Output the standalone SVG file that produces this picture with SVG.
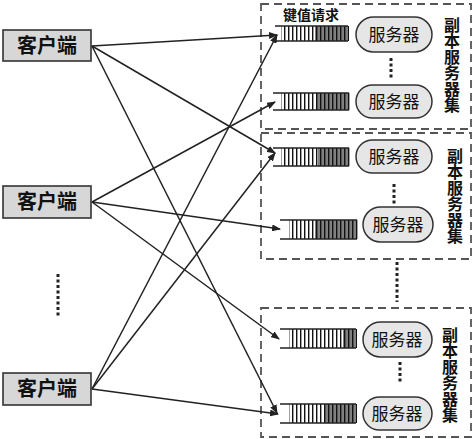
<svg xmlns="http://www.w3.org/2000/svg" width="474" height="439" viewBox="0 0 474 439">
<style>
.client rect{fill:#d7d7d7;stroke:#333;stroke-width:1.6}
.client text{font-family:"Noto Sans CJK SC",sans-serif;font-size:20px;font-weight:bold;fill:#111;text-anchor:middle}
.server rect{fill:#e6e6e6;stroke:#333;stroke-width:1.5}
.server text{font-family:"Noto Sans CJK SC",sans-serif;font-size:17px;fill:#111;text-anchor:middle}
.group rect{fill:none;stroke:#555;stroke-width:1.8;stroke-dasharray:8 5}
.vt{font-family:"Noto Sans CJK SC",sans-serif;font-size:16px;font-weight:bold;fill:#111;writing-mode:vertical-rl;text-anchor:middle}
.lbl{font-family:"Noto Sans CJK SC",sans-serif;font-size:14px;font-weight:bold;fill:#111;text-anchor:middle}
.conn line{stroke:#222;stroke-width:1.5;marker-end:url(#ah)}
.q line{stroke:#222;stroke-width:1.4}
.dots{stroke:#222;stroke-width:3;stroke-dasharray:3 2.5}
.qfill{fill:#808080}
.qbars{fill:url(#bars)}
</style>
<defs>
<marker id="ah" markerUnits="userSpaceOnUse" markerWidth="9" markerHeight="7" refX="8" refY="3.5" orient="auto">
<path d="M0,0 L9,3.5 L0,7 z" fill="#222"/>
</marker>
<pattern id="bars" patternUnits="userSpaceOnUse" width="4" height="10">
<rect x="0" y="0" width="1.4" height="10" fill="#111"/>
</pattern>
</defs>

<g id="group1" class="group"><rect x="261" y="4" width="210" height="125"/><text class="vt" x="452" y="65">副本服务器集</text></g>
<g id="group2" class="group"><rect x="261" y="133" width="210" height="126"/><text class="vt" x="455" y="196">副本服务器集</text></g>
<g id="group3" class="group"><rect x="261" y="308" width="210" height="129"/><text class="vt" x="450" y="375">副本服务器集</text></g>

<text class="lbl" x="311" y="20">键值请求</text>

<g id="queue1" class="q">
<rect x="315" y="26" width="33" height="15" class="qfill"/>
<rect x="281" y="26" width="68" height="15" class="qbars"/>
<line x1="275" y1="26" x2="348" y2="26"/><line x1="275" y1="41" x2="348" y2="41"/>
</g>
<g id="queue2" class="q">
<rect x="317" y="93" width="32" height="17" class="qfill"/>
<rect x="281" y="93" width="69" height="17" class="qbars"/>
<line x1="273" y1="93" x2="349" y2="93"/><line x1="273" y1="110" x2="349" y2="110"/>
</g>
<g id="queue3" class="q">
<rect x="318" y="148" width="31" height="18" class="qfill"/>
<rect x="281" y="148" width="69" height="18" class="qbars"/>
<line x1="273" y1="148" x2="349" y2="148"/><line x1="273" y1="166" x2="349" y2="166"/>
</g>
<g id="queue4" class="q">
<rect x="315" y="220" width="42" height="19" class="qfill"/>
<rect x="289" y="220" width="69" height="19" class="qbars"/>
<line x1="280" y1="220" x2="357" y2="220"/><line x1="280" y1="239" x2="357" y2="239"/>
</g>
<g id="queue5" class="q">
<rect x="343" y="329" width="13" height="19" class="qfill"/>
<rect x="289" y="329" width="68" height="19" class="qbars"/>
<line x1="280" y1="329" x2="356" y2="329"/><line x1="280" y1="348" x2="356" y2="348"/>
</g>
<g id="queue6" class="q">
<rect x="325" y="404" width="31" height="19" class="qfill"/>
<rect x="289" y="404" width="68" height="19" class="qbars"/>
<line x1="280" y1="404" x2="356" y2="404"/><line x1="280" y1="423" x2="356" y2="423"/>
</g>

<g id="server1" class="server"><rect x="356" y="17" width="76" height="35" rx="17.5"/><text x="394" y="41">服务器</text></g>
<g id="server2" class="server"><rect x="356" y="85" width="76" height="33" rx="16.5"/><text x="394" y="108">服务器</text></g>
<g id="server3" class="server"><rect x="356" y="140" width="76" height="33" rx="16.5"/><text x="394" y="163">服务器</text></g>
<g id="server4" class="server"><rect x="363" y="207" width="70" height="35" rx="17.5"/><text x="398" y="231">服务器</text></g>
<g id="server5" class="server"><rect x="363" y="322" width="69" height="35" rx="17.5"/><text x="397" y="346">服务器</text></g>
<g id="server6" class="server"><rect x="363" y="397" width="69" height="33" rx="16.5"/><text x="397" y="420">服务器</text></g>

<g id="client1" class="client"><rect x="3" y="30" width="88" height="31"/><text x="47" y="53">客户端</text></g>
<g id="client2" class="client"><rect x="3" y="186" width="88" height="32"/><text x="47" y="209">客户端</text></g>
<g id="client3" class="client"><rect x="3" y="373" width="88" height="32"/><text x="47" y="396">客户端</text></g>

<g id="ellipsis">
<line class="dots" x1="391" y1="58" x2="391" y2="78"/>
<line class="dots" x1="394" y1="184" x2="394" y2="204"/>
<line class="dots" x1="400" y1="362" x2="400" y2="383"/>
<line class="dots" x1="397" y1="262" x2="397" y2="302"/>
<line class="dots" x1="58" y1="274" x2="58" y2="316"/>
</g>

<g id="connectors" class="conn">
<line x1="92" y1="46" x2="277" y2="35"/>
<line x1="92" y1="46" x2="275" y2="153"/>
<line x1="92" y1="46" x2="277" y2="413"/>
<line x1="92" y1="202" x2="275" y2="102"/>
<line x1="92" y1="202" x2="280" y2="229"/>
<line x1="92" y1="202" x2="279" y2="339"/>
<line x1="92" y1="389" x2="277" y2="35"/>
<line x1="92" y1="389" x2="275" y2="153"/>
<line x1="92" y1="389" x2="278" y2="414"/>
</g>
</svg>
